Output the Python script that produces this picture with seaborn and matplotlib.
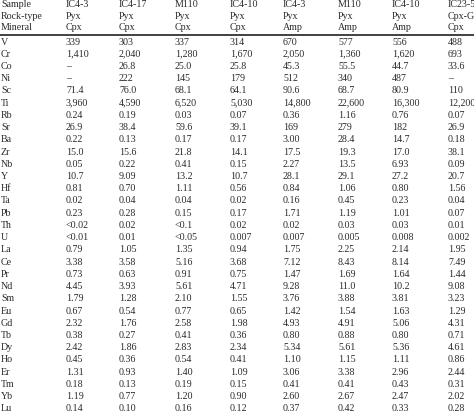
import matplotlib
matplotlib.use("Agg")
import matplotlib.pyplot as plt
import seaborn as sns

samples = ["IC4-3", "IC4-17", "M110", "IC4-10", "IC4-3", "M110", "IC4-10", "IC23-5"]
rock_types = ["Pyx", "Pyx", "Pyx", "Pyx", "Pyx", "Pyx", "Pyx", "Cpx-Gn"]
minerals = ["Cpx", "Cpx", "Cpx", "Cpx", "Amp", "Amp", "Amp", "Cpx"]
elements = ["V", "Cr", "Co", "Ni", "Sc", "Ti", "Rb", "Sr", "Ba", "Zr", "Nb", "Y", "Hf", "Ta", "Pb",
            "Th", "U", "La", "Ce", "Pr", "Nd", "Sm", "Eu", "Gd", "Tb", "Dy", "Ho", "Er", "Tm", "Yb", "Lu"]
values = [
    ["339", "303", "337", "314", "670", "577", "556", "488"],
    ["1,410", "2,040", "1,280", "1,670", "2,050", "1,360", "1,620", "693"],
    ["–", "26.8", "25.0", "25.8", "45.3", "55.5", "44.7", "33.6"],
    ["–", "222", "145", "179", "512", "340", "487", "–"],
    ["71.4", "76.0", "68.1", "64.1", "90.6", "68.7", "80.9", "110"],
    ["3,960", "4,590", "6,520", "5,030", "14,800", "22,600", "16,300", "12,200"],
    ["0.24", "0.19", "0.03", "0.07", "0.36", "1.16", "0.76", "0.07"],
    ["26.9", "38.4", "59.6", "39.1", "169", "279", "182", "26.9"],
    ["0.22", "0.13", "0.17", "0.17", "3.00", "28.4", "14.7", "0.18"],
    ["15.0", "15.6", "21.8", "14.1", "17.5", "19.3", "17.0", "38.1"],
    ["0.05", "0.22", "0.41", "0.15", "2.27", "13.5", "6.93", "0.09"],
    ["10.7", "9.09", "13.2", "10.7", "28.1", "29.1", "27.2", "20.7"],
    ["0.81", "0.70", "1.11", "0.56", "0.84", "1.06", "0.80", "1.56"],
    ["0.02", "0.04", "0.04", "0.02", "0.16", "0.45", "0.23", "0.04"],
    ["0.23", "0.28", "0.15", "0.17", "1.71", "1.19", "1.01", "0.07"],
    ["<0.02", "0.02", "<0.1", "0.02", "0.02", "0.03", "0.03", "0.01"],
    ["<0.01", "0.01", "<0.05", "0.007", "0.007", "0.005", "0.008", "0.002"],
    ["0.79", "1.05", "1.35", "0.94", "1.75", "2.25", "2.14", "1.95"],
    ["3.38", "3.58", "5.16", "3.68", "7.12", "8.43", "8.14", "7.49"],
    ["0.73", "0.63", "0.91", "0.75", "1.47", "1.69", "1.64", "1.44"],
    ["4.45", "3.93", "5.61", "4.71", "9.28", "11.0", "10.2", "9.08"],
    ["1.79", "1.28", "2.10", "1.55", "3.76", "3.88", "3.81", "3.23"],
    ["0.67", "0.54", "0.77", "0.65", "1.42", "1.54", "1.63", "1.29"],
    ["2.32", "1.76", "2.58", "1.98", "4.93", "4.91", "5.06", "4.31"],
    ["0.38", "0.27", "0.41", "0.36", "0.80", "0.88", "0.80", "0.71"],
    ["2.42", "1.86", "2.83", "2.34", "5.34", "5.61", "5.36", "4.61"],
    ["0.45", "0.36", "0.54", "0.41", "1.10", "1.15", "1.11", "0.86"],
    ["1.31", "0.93", "1.40", "1.09", "3.06", "3.38", "2.96", "2.44"],
    ["0.18", "0.13", "0.19", "0.15", "0.41", "0.41", "0.43", "0.31"],
    ["1.19", "0.77", "1.20", "0.90", "2.60", "2.67", "2.47", "2.02"],
    ["0.14", "0.10", "0.16", "0.12", "0.37", "0.42", "0.33", "0.28"],
]

sns.set_theme(style="white")
plt.rcParams['font.family'] = ['Liberation Serif', 'DejaVu Serif']

fig = plt.figure(figsize=(4.74, 4.12), dpi=100)
ax = fig.add_axes([0, 0, 1, 1])
ax.set_xlim(0, 474)
ax.set_ylim(412, 0)
ax.axis("off")

col_x = [66, 119, 175, 230, 283, 338, 392, 448]
fs = 7.2
color = "#2a2a2a"
hdr_y = [7, 18.5, 29.5]
for lbl, y in zip(["Sample", "Rock-type", "Mineral"], hdr_y):
    ax.text(1, y, lbl, fontsize=fs, va="baseline", ha="left", color=color)
for row, y in zip([samples, rock_types, minerals], hdr_y):
    for x, t in zip(col_x, row):
        ax.text(x, y, t, fontsize=fs, va="baseline", ha="left", color=color, clip_on=True)

ax.plot([0, 474], [35, 35], color="#333333", lw=1.3)

y0, dy = 44.5, 12.23
for i, (el, vals) in enumerate(zip(elements, values)):
    y = y0 + i * dy
    ax.text(1, y, el, fontsize=fs, va="baseline", ha="left", color=color)
    for x, t in zip(col_x, vals):
        ax.text(x, y, t, fontsize=fs, va="baseline", ha="left", color=color, clip_on=True)

fig.savefig("out.png", dpi=100, facecolor="white")
